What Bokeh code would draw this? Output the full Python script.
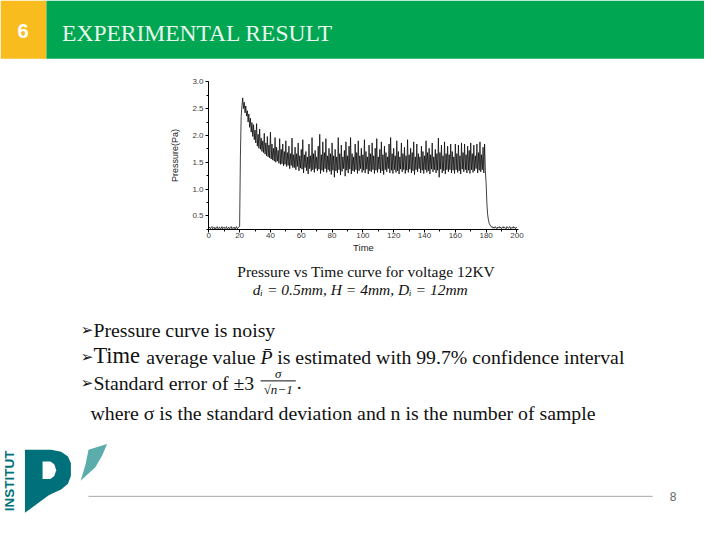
from bokeh.plotting import figure
from bokeh.layouts import column
from bokeh.models import Range1d, SingleIntervalTicker, PrintfTickFormatter
from bokeh.core.properties import value
from bokeh.embed import file_html
from bokeh.resources import INLINE

# ---------------- data ----------------
time_step = 0.5
pressure = [
    # 0 .. 19.5 s baseline
    0.27, 0.29, 0.26, 0.28, 0.30, 0.26, 0.28, 0.29, 0.25, 0.28,
    0.27, 0.30, 0.26, 0.28, 0.29, 0.25, 0.27, 0.30, 0.26, 0.28,
    0.29, 0.26, 0.28, 0.30, 0.25, 0.27, 0.29, 0.26, 0.28, 0.30,
    0.26, 0.28, 0.27, 0.29, 0.25, 0.28, 0.30, 0.26, 0.28, 0.29,
    # 20 .. 179.5 s voltage on
    0.30, 1.60, 2.35, 2.55, 2.70, 2.50, 2.62, 2.42, 2.55, 2.36,
    2.46, 2.25, 2.40, 2.15, 2.32, 2.06, 2.24, 1.98, 2.20, 1.92,
    2.10, 1.86, 2.22, 1.80, 2.02, 1.76, 2.12, 1.74, 1.95, 1.70,
    1.90, 1.68, 2.04, 1.65, 1.86, 1.62, 1.98, 1.60, 1.82, 1.58,
    2.06, 1.56, 1.84, 1.54, 1.76, 1.52, 1.96, 1.50, 1.78, 1.52,
    1.72, 1.48, 1.94, 1.46, 1.74, 1.47, 1.84, 1.43, 1.70, 1.46,
    1.90, 1.42, 1.68, 1.44, 1.80, 1.38, 1.66, 1.44, 1.95, 1.40,
    1.64, 1.40, 1.78, 1.36, 1.66, 1.42, 1.86, 1.34, 1.62, 1.39,
    1.74, 1.37, 1.92, 1.30, 1.64, 1.40, 1.70, 1.34, 1.60, 1.28,
    1.84, 1.38, 1.62, 1.33, 1.96, 1.36, 1.66, 1.31, 1.72, 1.38,
    1.60, 1.34, 1.80, 1.37, 2.02, 1.29, 1.64, 1.35, 1.88, 1.32,
    1.68, 1.38, 1.94, 1.31, 1.62, 1.36, 1.76, 1.33, 1.66, 1.27,
    1.86, 1.35, 1.62, 1.22, 1.74, 1.34, 1.60, 1.30, 1.96, 1.36,
    1.66, 1.26, 1.82, 1.33, 1.60, 1.38, 1.72, 1.24, 1.88, 1.35,
    1.62, 1.30, 1.80, 1.37, 1.96, 1.28, 1.66, 1.34, 1.60, 1.32,
    1.84, 1.36, 1.68, 1.29, 1.90, 1.34, 1.62, 1.38, 1.76, 1.31,
    1.64, 1.35, 1.92, 1.30, 1.70, 1.37, 1.60, 1.28, 1.82, 1.34,
    1.66, 1.32, 1.86, 1.36, 1.62, 1.29, 1.76, 1.35, 1.94, 1.31,
    1.60, 1.37, 1.74, 1.30, 1.88, 1.34, 1.64, 1.27, 1.80, 1.36,
    1.68, 1.32, 1.60, 1.38, 1.84, 1.30, 1.96, 1.35, 1.66, 1.29,
    1.76, 1.36, 1.62, 1.31, 1.90, 1.34, 1.70, 1.28, 1.60, 1.37,
    1.86, 1.32, 1.66, 1.36, 1.78, 1.29, 1.62, 1.35, 1.92, 1.31,
    1.64, 1.37, 1.76, 1.30, 1.68, 1.34, 1.88, 1.27, 1.60, 1.36,
    1.84, 1.32, 1.66, 1.38, 1.60, 1.30, 1.80, 1.35, 1.70, 1.29,
    1.62, 1.36, 1.90, 1.31, 1.68, 1.34, 1.76, 1.28, 1.64, 1.37,
    1.86, 1.32, 1.60, 1.36, 1.74, 1.30, 1.66, 1.35, 1.95, 1.22,
    1.68, 1.37, 1.82, 1.30, 1.62, 1.34, 1.88, 1.28, 1.66, 1.36,
    1.80, 1.32, 1.64, 1.36, 1.84, 1.30, 1.70, 1.35, 1.60, 1.29,
    1.84, 1.36, 1.66, 1.31, 1.82, 1.34, 1.62, 1.28, 1.86, 1.37,
    1.68, 1.32, 1.84, 1.36, 1.64, 1.30, 1.80, 1.35, 1.72, 1.29,
    1.86, 1.36, 1.66, 1.31, 1.82, 1.34, 1.62, 1.38, 1.84, 1.30,
    1.68, 1.35, 1.88, 1.32, 1.64, 1.36, 1.78, 1.30, 1.84, 1.34,
    # 180 .. 184.5 s switch-off decay
    1.10, 0.72, 0.52, 0.42, 0.36, 0.33, 0.31, 0.29, 0.30, 0.27,
    # 185 .. 200 s baseline
    0.29, 0.27, 0.30, 0.28, 0.26, 0.29, 0.28, 0.30, 0.27, 0.29,
    0.26, 0.28, 0.30, 0.27, 0.29, 0.28, 0.26, 0.30, 0.28, 0.27,
    0.29, 0.30, 0.26, 0.28, 0.29, 0.27, 0.30, 0.28, 0.26, 0.29,
    0.28,
]
time = [i * time_step for i in range(len(pressure))]

x_tick_interval = 20
y_tick_interval = 0.5

header_number = "6"
header_title = "EXPERIMENTAL RESULT"
caption_1 = "Pressure vs Time curve for voltage 12KV"
caption_2 = "d\u1d62 = 0.5mm, H = 4mm, D\u1d62 = 12mm"
bullet_1 = "Pressure curve is noisy"
bullet_2a = "Time"
bullet_2b = "average value"
bullet_2c = "P\u0304"
bullet_2d = "is estimated with 99.7% confidence interval"
bullet_3 = "Standard error of \u00b13"
frac_num = "\u03c3"
frac_den = "\u221an\u22121"
line_4 = "where \u03c3 is the standard deviation and n is the number of sample"
page_number = "8"

# ---------------- page geometry ----------------
W, H = 704, 524
SX, SY = W / 720.0, H / 540.0
hA, hB = 70, 187
hC = H - hA - hB
yA = hA / SY
yB = yA + hB / SY

SERIF = value("Liberation Serif")
SANS = value("Liberation Sans")
BODY = "19.8px"


def blank(height, y0, y1):
    f = figure(width=W, height=height, x_range=Range1d(0, 720),
               y_range=Range1d(y1, y0), x_axis_type=None, y_axis_type=None,
               toolbar_location=None, output_backend="svg", min_border=0,
               frame_align=False)
    f.outline_line_color = None
    f.grid.visible = False
    f.background_fill_color = "white"
    f.border_fill_color = "white"
    return f

# ---------------- header ----------------
pa = blank(hA, 0, yA)
pa.quad(left=[0], right=[47], top=[0], bottom=[60], fill_color="#F9BC1F", line_color=None)
pa.quad(left=[47], right=[720], top=[0], bottom=[60], fill_color="#00A651", line_color=None)
pa.text(x=[23], y=[31], text=[header_number], text_color="white", text_font=SANS,
        text_font_style="bold", text_font_size="20px", text_align="center", text_baseline="middle")
pa.text(x=[63], y=[33], text=[header_title], text_color="#E9F7EE", text_font=SERIF,
        text_font_size="23.5px", text_align="left", text_baseline="middle")

# ---------------- chart ----------------
fl = 208
fw = 310
ft = int(round((83.7 - yA) * SY))
fb = int(round((235.7 - yA) * SY))
pb = figure(width=W, height=hB, x_range=Range1d(-0.2, 201), y_range=Range1d(0.246, 3.005),
            toolbar_location=None, output_backend="svg", frame_align=False,
            min_border_left=fl, min_border_right=W - fl - fw,
            min_border_top=ft, min_border_bottom=hB - fb)
pb.outline_line_color = None
pb.grid.visible = False
pb.background_fill_color = "white"
pb.border_fill_color = "white"
pb.line(time, pressure, line_color="black", line_width=0.75)

pb.xaxis.ticker = SingleIntervalTicker(interval=x_tick_interval, num_minor_ticks=2)
pb.yaxis.ticker = SingleIntervalTicker(interval=y_tick_interval, num_minor_ticks=2)
pb.yaxis.formatter = PrintfTickFormatter(format="%.1f")
pb.xaxis.axis_label = "Time"
pb.yaxis.axis_label = "Pressure(Pa)"
for ax in (pb.xaxis, pb.yaxis):
    ax.axis_line_color = "black"
    ax.major_tick_line_color = "black"
    ax.minor_tick_line_color = "black"
    ax.major_tick_in = 0
    ax.major_tick_out = 3
    ax.minor_tick_in = 0
    ax.minor_tick_out = 2
    ax.major_label_text_font = "Liberation Sans"
    ax.major_label_text_font_size = "8px"
    ax.major_label_text_color = "#3a3a3a"
    ax.axis_label_text_font = "Liberation Sans"
    ax.axis_label_text_font_style = "normal"
    ax.axis_label_text_color = "#222222"
pb.xaxis.major_label_standoff = 0
pb.xaxis.axis_label_standoff = 1
pb.xaxis.axis_label_text_font_size = "9.5px"
pb.yaxis.major_label_standoff = 2
pb.yaxis.axis_label_standoff = 9
pb.yaxis.axis_label_text_font_size = "9px"

# ---------------- caption, bullets, footer ----------------
pc = blank(hC, yB, 540)
pc.text(x=[374], y=[279], text=[caption_1], text_font=SERIF, text_font_size="15.5px",
        text_color="#111111", text_align="center", text_baseline="middle")
pc.text(x=[368], y=[298], text=[caption_2], text_font=SERIF, text_font_style="italic",
        text_font_size="15.5px", text_color="#111111", text_align="center", text_baseline="middle")

pc.text(x=[82, 82, 82], y=[340, 367, 394], text=["\u27a2", "\u27a2", "\u27a2"],
        text_font=value("DejaVu Sans"), text_font_size="15px", text_color="#111111",
        text_align="left", text_baseline="middle")
pc.text(x=[95], y=[340], text=[bullet_1], text_font=SERIF, text_font_size=BODY,
        text_color="#111111", text_baseline="middle")
pc.text(x=[95], y=[366], text=[bullet_2a], text_font=SERIF, text_font_size="22.5px",
        text_color="#111111", text_baseline="middle")
pc.text(x=[149], y=[367], text=[bullet_2b], text_font=SERIF, text_font_size=BODY,
        text_color="#111111", text_baseline="middle")
pc.text(x=[266], y=[367], text=[bullet_2c], text_font=SERIF, text_font_style="italic",
        text_font_size=BODY, text_color="#111111", text_baseline="middle")
pc.text(x=[283], y=[367], text=[bullet_2d], text_font=SERIF, text_font_size=BODY,
        text_color="#111111", text_baseline="middle")
pc.text(x=[95], y=[394], text=[bullet_3], text_font=SERIF, text_font_size=BODY,
        text_color="#111111", text_baseline="middle")
pc.text(x=[284], y=[384], text=[frac_num], text_font=SERIF, text_font_style="italic",
        text_font_size="13px", text_color="#111111", text_align="center", text_baseline="middle")
pc.segment(x0=[266], y0=[392], x1=[302], y1=[392], line_color="#111111", line_width=1)
pc.text(x=[284], y=[401], text=[frac_den], text_font=SERIF, text_font_style="italic",
        text_font_size="13px", text_color="#111111", text_align="center", text_baseline="middle")
pc.text(x=[303], y=[394], text=["."], text_font=SERIF, text_font_size=BODY,
        text_color="#111111", text_baseline="middle")
pc.text(x=[92], y=[425], text=[line_4], text_font=SERIF, text_font_size=BODY,
        text_color="#111111", text_baseline="middle")

# footer line and page number
pc.segment(x0=[90], y0=[511], x1=[667], y1=[511], line_color="#A8A8A8", line_width=1)
pc.text(x=[688], y=[511], text=[page_number], text_font=SANS, text_font_size="12px",
        text_color="#666666", text_align="center", text_baseline="middle")

# logo
teal = "#00707A"
pc.text(x=[9], y=[495], text=["INSTITUT"], angle=1.5708, text_font=SANS, text_font_style="bold",
        text_font_size="13.5px", text_color=teal, text_align="center", text_baseline="middle")
pc.patch(x=[25, 25, 52, 62, 69, 72, 72, 69, 62, 53, 49, 25],
         y=[528, 463, 463, 465, 470, 477, 490, 498, 504, 508, 510, 528],
         fill_color=teal, line_color=None)
pc.patch(x=[43, 51, 55, 57, 55, 51, 43],
         y=[475, 475, 478, 484, 490, 493, 493],
         fill_color="white", line_color=None)
pc.patch(x=[90, 109, 104, 97, 82, 87],
         y=[463, 457, 469, 481, 495, 478],
         fill_color="#5AADAA", line_color=None)

layout = column(pa, pb, pc, spacing=0)
open("out.html", "w").write(file_html(layout, INLINE, title="Experimental result"))
